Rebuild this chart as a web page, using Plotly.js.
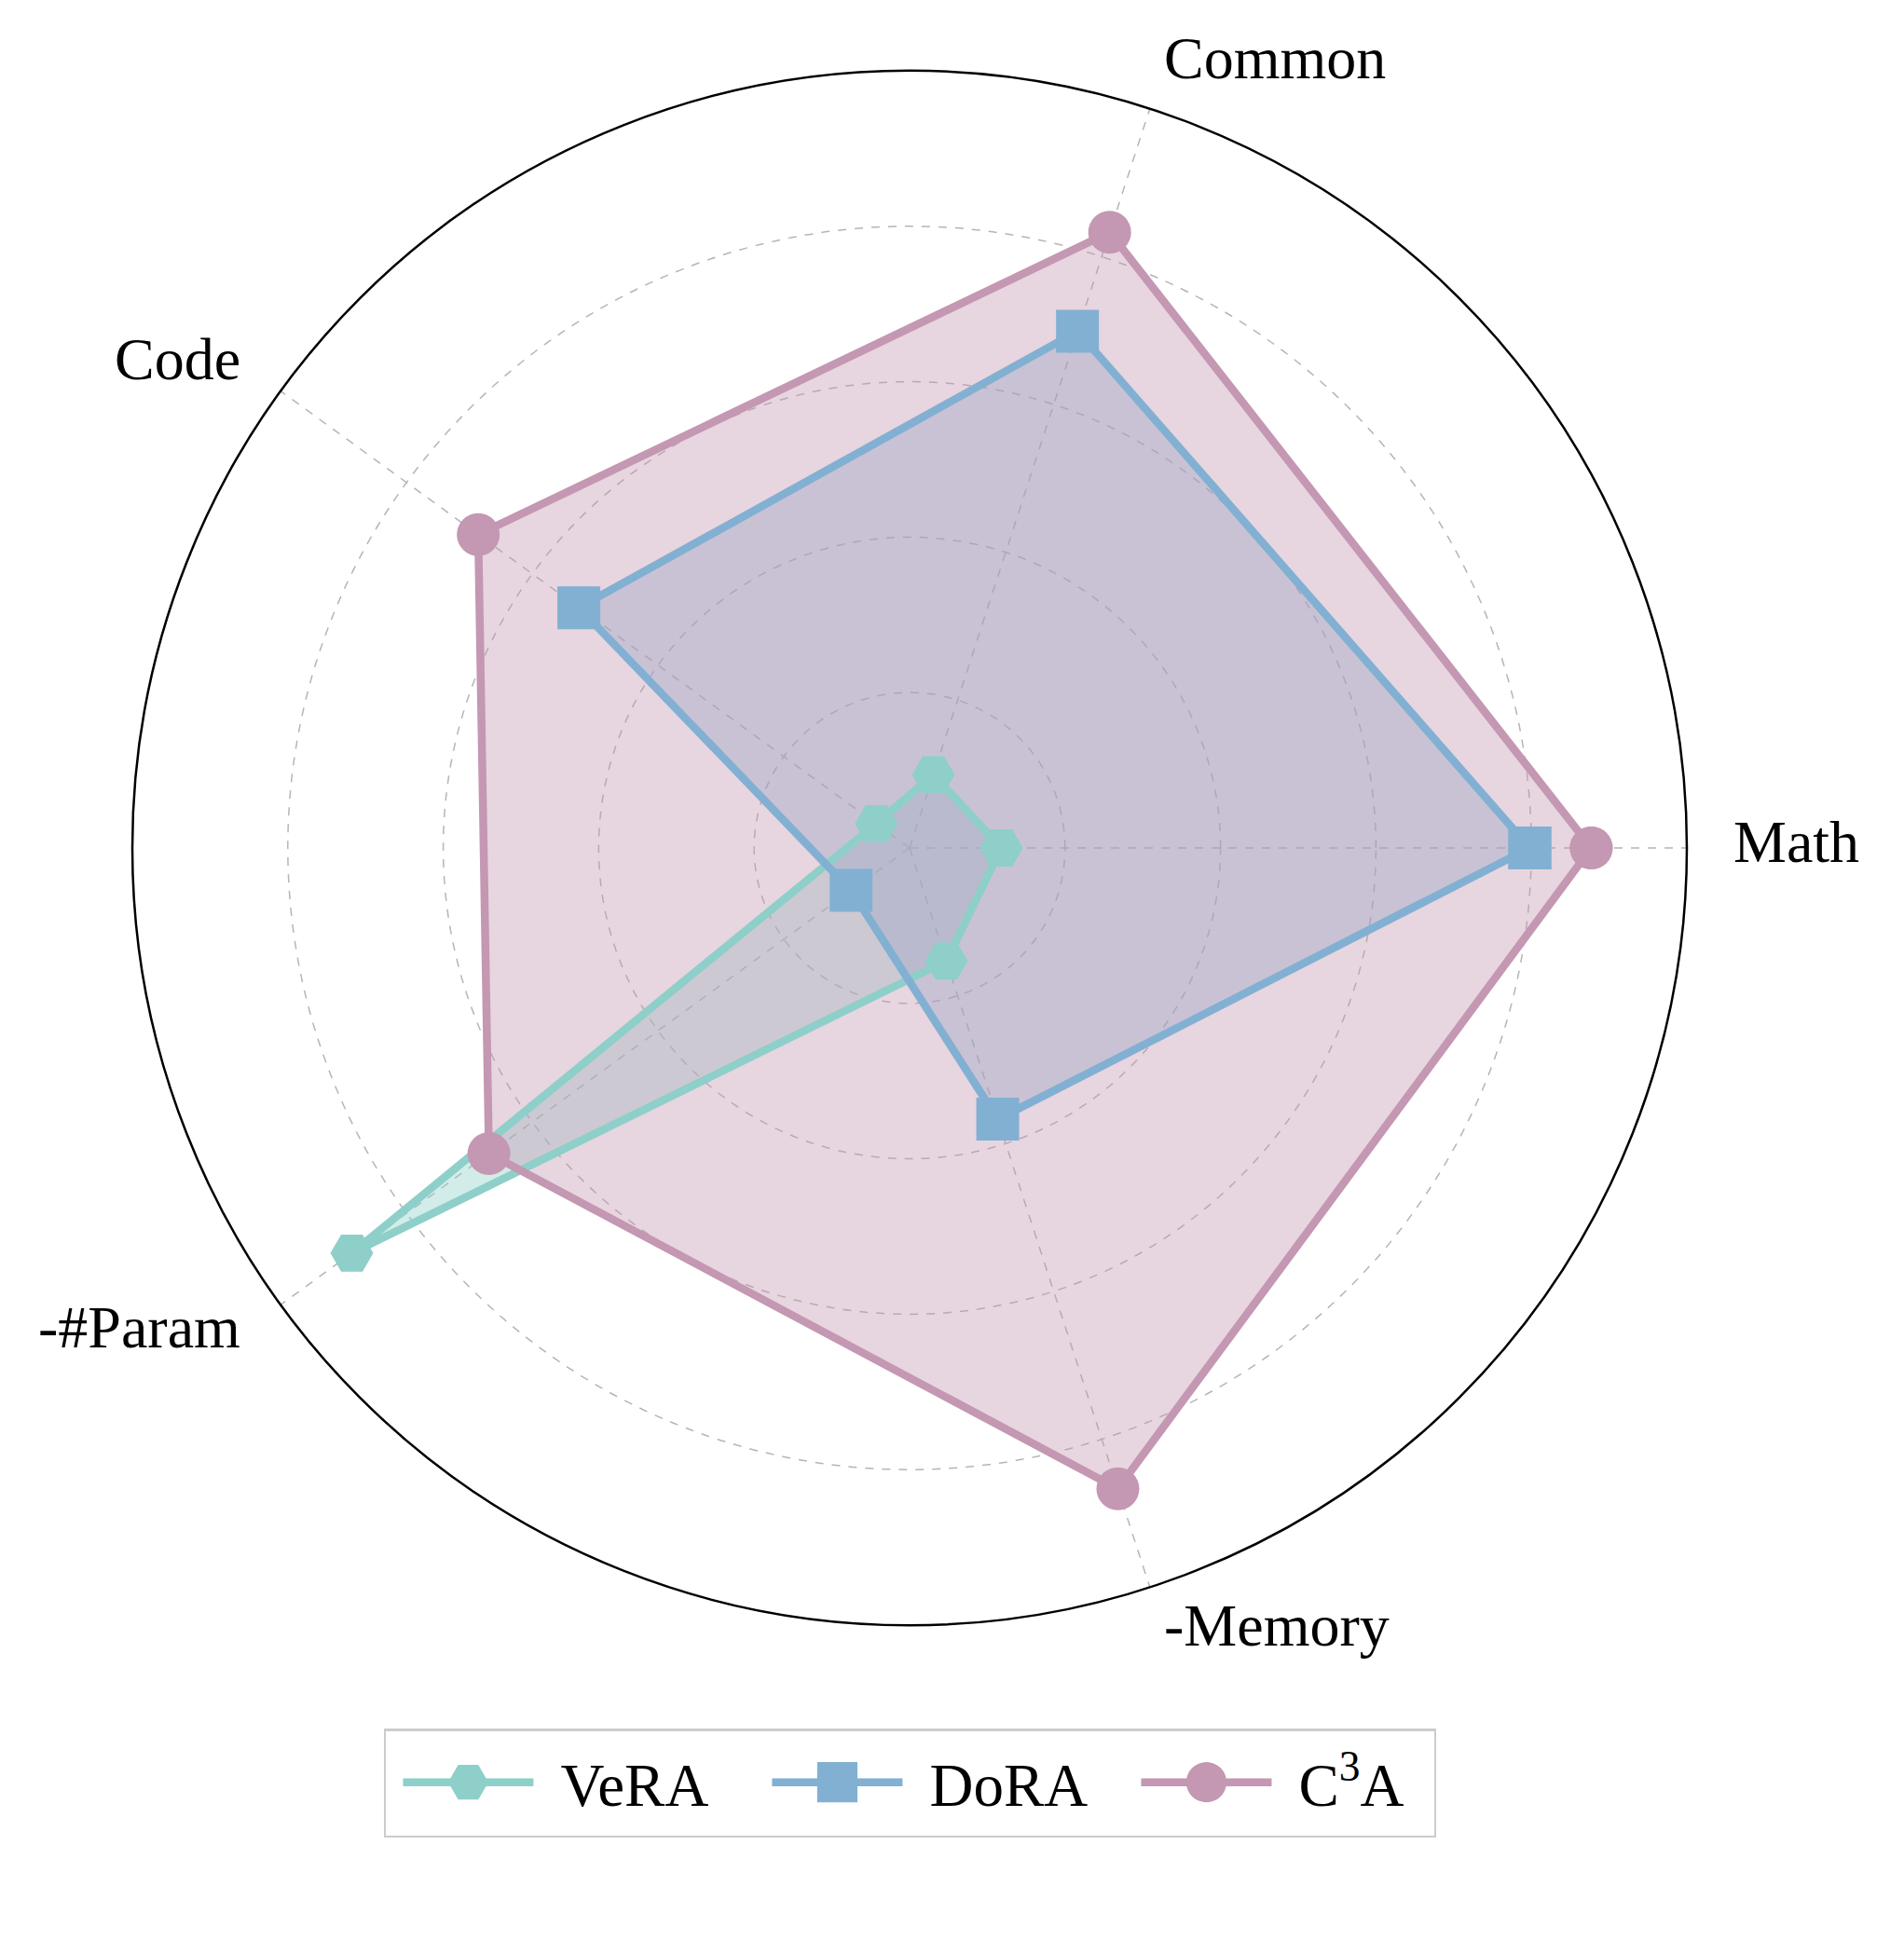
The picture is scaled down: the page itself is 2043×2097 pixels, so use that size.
<!DOCTYPE html>
<html>
<head>
<meta charset="utf-8">
<script src="https://cdn.plot.ly/plotly-3.0.1.min.js"></script>
<style>html,body{margin:0;padding:0;background:#fff;}</style>
</head>
<body>
<div id="chart" style="width:2043px;height:2097px;"></div>
<script>
const categories = ["Math", "Common", "Code", "-#Param", "-Memory"];
const seriesNames = ["VeRA", "DoRA", "C<sup>3</sup>A"];
const veraValues = [0.118, 0.099, 0.053, 0.887, 0.153];
const doraValues = [0.798, 0.699, 0.526, 0.093, 0.367];
const c3aValues  = [0.877, 0.833, 0.686, 0.669, 0.867];
const radialTicks = [0.2, 0.4, 0.6, 0.8];

const colors = ["#8ECFC9", "#82B0D2", "#C497B2"];
const fills = ["rgba(142,207,201,0.4)", "rgba(130,176,210,0.4)", "rgba(196,151,178,0.4)"];
const symbols = ["hexagon2", "square", "circle"];
const allValues = [veraValues, doraValues, c3aValues];
const FONT = "Liberation Serif, Times New Roman, serif";

function closed(arr) { return arr.concat([arr[0]]); }

const traces = [];
// fills first (beneath all lines)
allValues.forEach((vals, i) => {
  traces.push({
    type: "scatterpolar",
    r: closed(vals),
    theta: closed(categories),
    mode: "none",
    fill: "toself",
    fillcolor: fills[i],
    showlegend: false,
    hoverinfo: "skip"
  });
});
allValues.forEach((vals, i) => {
  traces.push({
    type: "scatterpolar",
    name: seriesNames[i],
    r: closed(vals),
    theta: closed(categories),
    mode: "lines+markers",
    line: {color: colors[i], width: 8.5},
    marker: {symbol: symbols[i], size: 46, color: colors[i], line: {width: 0}}
  });
});

// category label placement (paper coords) around the outer circle
const labelPos = [
  {x: 0.90945, y: 0.56891, xanchor: "left"},
  {x: 0.61038, y: 0.96996, xanchor: "left"},
  {x: 0.12726, y: 0.81640, xanchor: "right"},
  {x: 0.12726, y: 0.32093, xanchor: "right"},
  {x: 0.61038, y: 0.16786, xanchor: "left"}
];
const annotations = categories.map((c, i) => ({
  text: c,
  xref: "paper", yref: "paper",
  x: labelPos[i].x, y: labelPos[i].y,
  xanchor: labelPos[i].xanchor, yanchor: "middle",
  showarrow: false,
  font: {family: FONT, size: 64, color: "#000"}
}));

const layout = {
  width: 2043,
  height: 2097,
  margin: {l: 0, r: 0, t: 0, b: 0},
  paper_bgcolor: "#ffffff",
  font: {family: FONT, size: 62, color: "#000"},
  annotations: annotations,
  polar: {
    domain: {x: [0.06951, 0.88595], y: [0.16834, 0.96376]},
    bgcolor: "#ffffff",
    radialaxis: {
      range: [0, 1],
      tickvals: radialTicks,
      showticklabels: false,
      ticks: "",
      showline: false,
      gridcolor: "#b5b5b5",
      gridwidth: 1.5,
      griddash: "dash"
    },
    angularaxis: {
      type: "category",
      categoryarray: categories,
      direction: "counterclockwise",
      rotation: 0,
      showline: true,
      linecolor: "#000",
      linewidth: 2.5,
      ticks: "",
      showticklabels: false,
      gridcolor: "#b5b5b5",
      gridwidth: 1.5,
      griddash: "dash"
    }
  },
  showlegend: true,
  legend: {
    orientation: "h",
    x: 0.2080,
    y: 0.0878,
    xanchor: "left",
    yanchor: "middle",
    bordercolor: "#cccccc",
    borderwidth: 2.5,
    bgcolor: "#ffffff",
    font: {family: FONT, size: 65, color: "#000"},
    itemwidth: 140,
    entrywidth: 241,
    itemsizing: "trace"
  }
};

Plotly.newPlot("chart", traces, layout, {staticPlot: true}).then(gd => {
  // enlarge legend swatches to match the plotted marker/line size
  gd.querySelectorAll(".legend .traces").forEach(tr => {
    tr.querySelectorAll("path.js-line").forEach(p => { p.style.strokeWidth = "8.5px"; });
    tr.querySelectorAll("path.scatterpts").forEach(p => {
      const t = p.getAttribute("transform") || "";
      p.setAttribute("transform", t + " scale(2.7)");
    });
    tr.querySelectorAll("text.legendtext").forEach(t => {
      const x = parseFloat(t.getAttribute("x") || "0");
      t.setAttribute("x", x + 24);
      t.querySelectorAll("tspan[x]").forEach(s => {
        s.setAttribute("x", parseFloat(s.getAttribute("x")) + 24);
      });
    });
  });
  const bg = gd.querySelector(".legend rect.bg");
  if (bg) {
    const x = parseFloat(bg.getAttribute("x") || "0");
    const y = parseFloat(bg.getAttribute("y") || "0");
    const h = parseFloat(bg.getAttribute("height") || "0");
    bg.setAttribute("x", x - 13);
    bg.setAttribute("width", 1127);
    bg.setAttribute("y", y - 6);
    bg.setAttribute("height", h + 14);
  }
});
</script>
</body>
</html>
